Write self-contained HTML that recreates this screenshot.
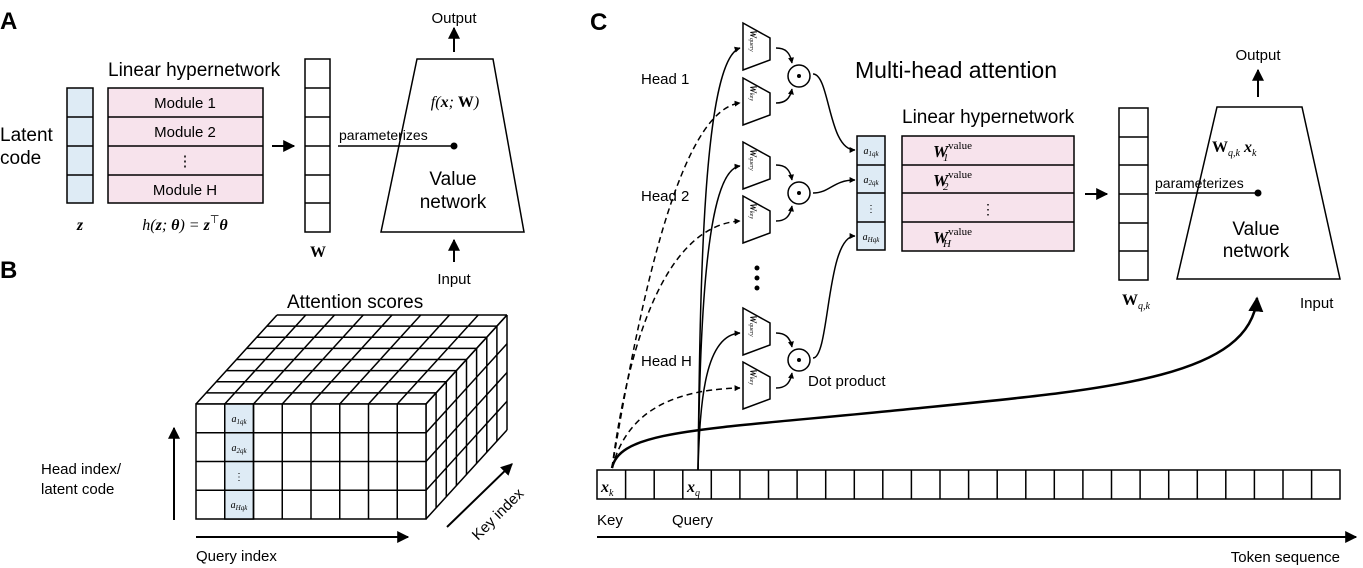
<!DOCTYPE html>
<html><head><meta charset="utf-8"><style>
html,body{margin:0;padding:0;background:#fff;}
svg{display:block;font-family:"Liberation Sans",sans-serif;}
.m{font-family:"Liberation Serif",serif;font-style:italic;}
.b{font-family:"Liberation Serif",serif;font-weight:bold;}
</style></head><body>
<svg width="1363" height="568" viewBox="0 0 1363 568" xmlns="http://www.w3.org/2000/svg">
<defs>
<marker id="ar" viewBox="0 0 10 10" refX="9" refY="5" markerWidth="6" markerHeight="6" orient="auto"><path d="M0,0L10,5L0,10z" fill="#000"/></marker>
<marker id="ar2" viewBox="0 0 10 10" refX="9" refY="5" markerWidth="4" markerHeight="4" orient="auto"><path d="M0,0L10,5L0,10z" fill="#000"/></marker>
</defs>
<g fill="none" stroke="#000" stroke-width="1.5">
<rect x="67" y="88" width="26" height="115" fill="#deebf5"/>
<path d="M67 117h26M67 146h26M67 175h26"/>
<rect x="108" y="88" width="155" height="115" fill="#f7e3ec"/>
<path d="M108 117h155M108 146h155M108 175h155"/>
<path d="M272 146h22" stroke-width="2" marker-end="url(#ar)"/>
<rect x="305" y="59" width="25" height="173"/>
<path d="M305 88h25M305 117h25M305 146h25M305 175h25M305 203h25"/>
<path d="M417 59H493L524 232H381Z"/>
<path d="M338 146H454"/>
<path d="M454 52V28" stroke-width="2" marker-end="url(#ar)"/>
<path d="M454 262V240" stroke-width="2" marker-end="url(#ar)"/>
<path d="M196 404h230M206.1 392.9h230M216.3 381.8h230M226.4 370.6h230M236.5 359.5h230M246.6 348.4h230M256.8 337.3h230M266.9 326.1h230M277 315h230"/>
<path d="M196 404l81 -89M224.75 404l81 -89M253.5 404l81 -89M282.25 404l81 -89M311 404l81 -89M339.75 404l81 -89M368.5 404l81 -89M397.25 404l81 -89M426 404l81 -89"/>
<path d="M426 404v115M436.1 392.9v115M446.3 381.8v115M456.4 370.6v115M466.5 359.5v115M476.6 348.4v115M486.8 337.3v115M496.9 326.1v115M507 315v115"/>
<path d="M426 404l81 -89M426 432.75l81 -89M426 461.5l81 -89M426 490.25l81 -89M426 519l81 -89"/>
<rect x="196" y="404" width="230" height="115" fill="#fff"/>
<rect x="224.75" y="404" width="28.75" height="115" fill="#deebf5"/>
<path d="M224.75 404v115M253.5 404v115M282.25 404v115M311 404v115M339.75 404v115M368.5 404v115M397.25 404v115"/>
<path d="M196 432.75h230M196 461.5h230M196 490.25h230"/>
<path d="M196 537H408" stroke-width="2" marker-end="url(#ar)"/>
<path d="M174 520V428" stroke-width="2" marker-end="url(#ar)"/>
<path d="M447 527L512 464" stroke-width="2" marker-end="url(#ar)"/>
<path d="M743 23L770 38V60L743 70Z"/>
<path d="M743 78L770 93V115L743 125Z"/>
<path d="M743 142L770 157V179L743 189Z"/>
<path d="M743 196L770 211V233L743 243Z"/>
<path d="M743 308L770 323V345L743 355Z"/>
<path d="M743 362L770 377V399L743 409Z"/>
<circle cx="799" cy="76" r="11"/>
<circle cx="799" cy="193" r="11"/>
<circle cx="799" cy="360" r="11"/>
<path d="M776 48C785 48 790 52 792 63" marker-end="url(#ar2)"/>
<path d="M776 103C785 103 790 99 792 89" marker-end="url(#ar2)"/>
<path d="M776 165C785 165 790 169 792 180" marker-end="url(#ar2)"/>
<path d="M776 221C785 221 790 217 792 206" marker-end="url(#ar2)"/>
<path d="M776 333C785 333 790 337 792 347" marker-end="url(#ar2)"/>
<path d="M776 388C785 388 790 384 792 373" marker-end="url(#ar2)"/>
<path d="M813 74C830 74 828 150 855 150" marker-end="url(#ar2)"/>
<path d="M813 193C830 193 833 180 855 180" marker-end="url(#ar2)"/>
<path d="M813 358C830 358 826 236 855 236" marker-end="url(#ar2)"/>
<rect x="857" y="136" width="28" height="114" fill="#deebf5"/>
<path d="M857 165h28M857 193h28M857 222h28"/>
<rect x="902" y="136" width="172" height="115" fill="#f7e3ec"/>
<path d="M902 165h172M902 193h172M902 222h172"/>
<path d="M1085 194h22" stroke-width="2" marker-end="url(#ar)"/>
<rect x="1119" y="108" width="29" height="172"/>
<path d="M1119 137h29M1119 165h29M1119 194h29M1119 223h29M1119 251h29"/>
<path d="M1217 107H1302L1340 279H1177Z"/>
<path d="M1155 193H1258"/>
<path d="M1258 97V70" stroke-width="2" marker-end="url(#ar)"/>
<rect x="597" y="470" width="743" height="29"/>
<path d="M625.6 470v29M654.2 470v29M682.8 470v29M711.3 470v29M739.9 470v29M768.5 470v29M797.1 470v29M825.7 470v29M854.3 470v29M882.8 470v29M911.4 470v29M940 470v29M968.6 470v29M997.2 470v29M1025.8 470v29M1054.3 470v29M1082.9 470v29M1111.5 470v29M1140.1 470v29M1168.7 470v29M1197.3 470v29M1225.8 470v29M1254.4 470v29M1283 470v29M1311.6 470v29"/>
<path d="M597 537H1356" stroke-width="2" marker-end="url(#ar)"/>
<path d="M698 470C700 300 702 60 740 48" marker-end="url(#ar2)"/>
<path d="M698 470C700 330 705 170 740 166" marker-end="url(#ar2)"/>
<path d="M698 470C700 400 705 335 740 333" marker-end="url(#ar2)"/>
<g stroke-dasharray="6,4">
<path d="M612 468C640 300 680 110 740 103" marker-end="url(#ar2)"/>
<path d="M612 468C630 330 670 225 740 221" marker-end="url(#ar2)"/>
<path d="M612 468C625 420 660 390 740 388" marker-end="url(#ar2)"/>
</g>
<path d="M612 468C620 430 700 430 900 410C1100 390 1250 380 1257 298" stroke-width="2.5" marker-end="url(#ar)"/>
</g>
<g fill="#000">
<circle cx="454" cy="146" r="3.5"/>
<circle cx="1258" cy="193" r="3.5"/>
<circle cx="799" cy="76" r="2"/><circle cx="799" cy="193" r="2"/><circle cx="799" cy="360" r="2"/>
<circle cx="757" cy="268" r="2.5"/><circle cx="757" cy="278" r="2.5"/><circle cx="757" cy="288" r="2.5"/>
</g>
<g font-size="24" font-weight="bold"><text x="0" y="29">A</text><text x="0" y="278">B</text><text x="590" y="30">C</text></g>
<g font-size="19">
<text x="108" y="76">Linear hypernetwork</text>
<text x="0" y="141">Latent</text><text x="0" y="164">code</text>
<text x="453" y="185" text-anchor="middle">Value</text><text x="453" y="208" text-anchor="middle">network</text>
<text x="287" y="308">Attention scores</text>
<text x="902" y="123">Linear hypernetwork</text>
<text x="1256" y="235" text-anchor="middle">Value</text><text x="1256" y="257" text-anchor="middle">network</text>
</g>
<text x="855" y="78" font-size="23">Multi-head attention</text>
<g font-size="15">
<text x="454" y="23" text-anchor="middle">Output</text>
<text x="454" y="284" text-anchor="middle">Input</text>
<text x="185" y="108" text-anchor="middle">Module 1</text>
<text x="185" y="137" text-anchor="middle">Module 2</text>
<text x="185" y="166" text-anchor="middle">⋮</text>
<text x="185" y="195" text-anchor="middle">Module H</text>
<text x="196" y="561">Query index</text>
<text x="41" y="474">Head index/</text><text x="41" y="494">latent code</text>
<text x="0" y="0" transform="translate(478,541) rotate(-45)">Key index</text>
<text x="641" y="84">Head 1</text><text x="641" y="201">Head 2</text><text x="641" y="366">Head H</text>
<text x="808" y="386">Dot product</text>
<text x="1258" y="60" text-anchor="middle">Output</text>
<text x="1300" y="308">Input</text>
<text x="597" y="525">Key</text><text x="672" y="525">Query</text>
<text x="1340" y="562" text-anchor="end">Token sequence</text>
</g>
<g font-size="14"><text x="339" y="140">parameterizes</text><text x="1155" y="188">parameterizes</text></g>
<g font-size="16">
<text class="m" x="80" y="230" text-anchor="middle" font-weight="bold">z</text>
<text class="m" x="185" y="230" text-anchor="middle">h(<tspan font-weight="bold">z</tspan>; <tspan font-weight="bold">θ</tspan>) = <tspan font-weight="bold">z</tspan><tspan font-style="normal" font-size="11" dy="-7">⊤</tspan><tspan dy="7" font-weight="bold">θ</tspan></text>
<text class="b" x="318" y="257" text-anchor="middle">W</text>
<text class="m" x="455" y="107" text-anchor="middle">f(<tspan font-weight="bold">x</tspan>; <tspan font-weight="bold" font-style="normal">W</tspan>)</text>
<text class="b" x="1212" y="152">W<tspan font-size="10" font-weight="normal" font-style="italic" dy="4">q,k</tspan><tspan dy="-4" font-style="italic"> x</tspan><tspan font-size="10" font-weight="normal" font-style="italic" dy="4">k</tspan></text>
<text class="b" x="1122" y="305">W<tspan font-size="10" font-weight="normal" font-style="italic" dy="4">q,k</tspan></text>
<text class="m" x="601" y="492" font-weight="bold">x<tspan font-size="10" font-weight="normal" dy="4">k</tspan></text>
<text class="m" x="687" y="492" font-weight="bold">x<tspan font-size="10" font-weight="normal" dy="4">q</tspan></text>
</g>
<g class="m" font-size="17" font-weight="bold">
<text x="933" y="157">W<tspan font-size="11" font-weight="normal" font-style="normal" dy="-8">value</tspan><tspan font-size="11" font-weight="normal" dx="-29" dy="12">1</tspan></text>
<text x="933" y="186">W<tspan font-size="11" font-weight="normal" font-style="normal" dy="-8">value</tspan><tspan font-size="11" font-weight="normal" dx="-29" dy="12">2</tspan></text>
<text x="933" y="243">W<tspan font-size="11" font-weight="normal" font-style="normal" dy="-8">value</tspan><tspan font-size="11" font-weight="normal" dx="-29" dy="12">H</tspan></text>
</g>
<text x="988" y="214" font-size="14" text-anchor="middle">⋮</text>
<g class="m" font-size="10">
<text x="871" y="154" text-anchor="middle">a<tspan font-size="7" dy="2">1qk</tspan></text>
<text x="871" y="183" text-anchor="middle">a<tspan font-size="7" dy="2">2qk</tspan></text>
<text x="871" y="212" text-anchor="middle" font-style="normal">⋮</text>
<text x="871" y="240" text-anchor="middle">a<tspan font-size="7" dy="2">Hqk</tspan></text>
<text x="239" y="422" text-anchor="middle">a<tspan font-size="7" dy="2">1qk</tspan></text>
<text x="239" y="451" text-anchor="middle">a<tspan font-size="7" dy="2">2qk</tspan></text>
<text x="239" y="480" text-anchor="middle" font-style="normal">⋮</text>
<text x="239" y="508" text-anchor="middle">a<tspan font-size="7" dy="2">Hqk</tspan></text>
</g>
<g class="m" font-size="9" font-weight="bold">
<text transform="translate(750,30) rotate(90)">W<tspan font-size="6" font-weight="normal">query</tspan></text>
<text transform="translate(750,85) rotate(90)">W<tspan font-size="6" font-weight="normal">key</tspan></text>
<text transform="translate(750,149) rotate(90)">W<tspan font-size="6" font-weight="normal">query</tspan></text>
<text transform="translate(750,203) rotate(90)">W<tspan font-size="6" font-weight="normal">key</tspan></text>
<text transform="translate(750,315) rotate(90)">W<tspan font-size="6" font-weight="normal">query</tspan></text>
<text transform="translate(750,369) rotate(90)">W<tspan font-size="6" font-weight="normal">key</tspan></text>
</g>
</svg>
</body></html>
